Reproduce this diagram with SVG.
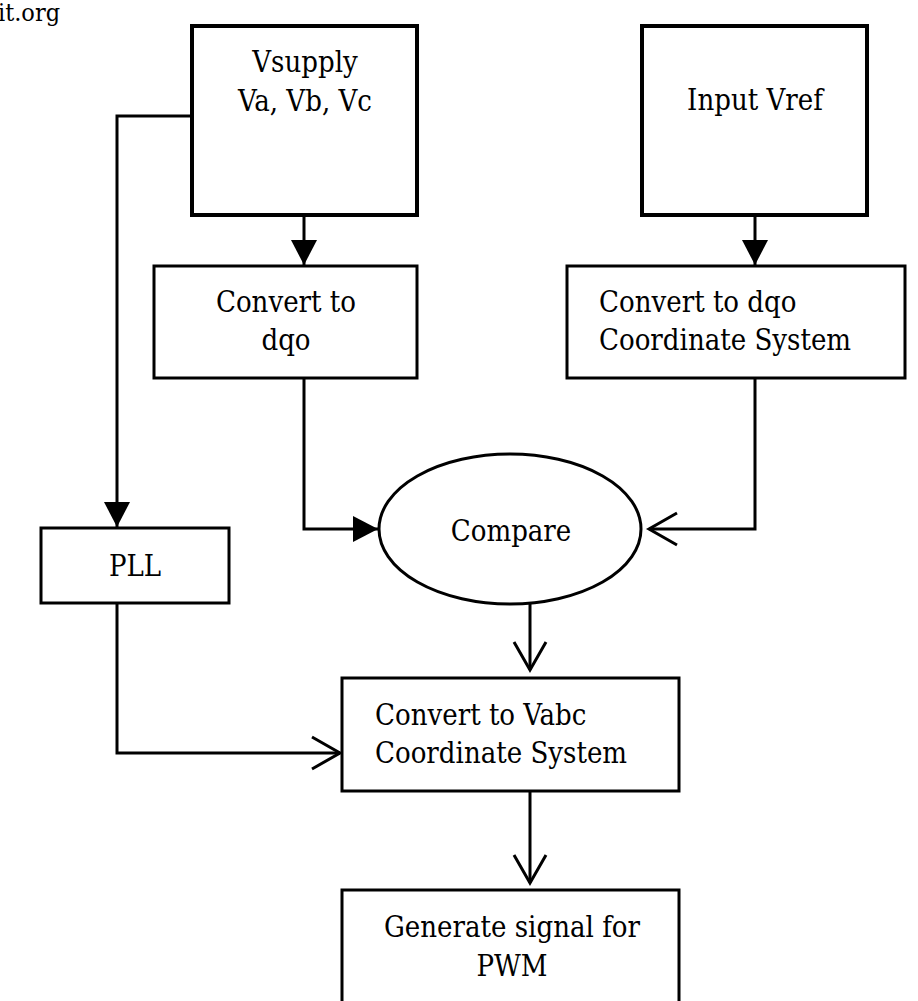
<svg xmlns="http://www.w3.org/2000/svg" width="918" height="1001" viewBox="0 0 918 1001">
<defs>
<style>
.box{fill:#fff;stroke:#000;stroke-width:3}
.thick{stroke-width:4}
.t{font-family:"DejaVu Serif Condensed","DejaVu Serif",serif;font-stretch:condensed;font-size:29px;fill:#000}
.c{text-anchor:middle}
.ln{fill:none;stroke:#000;stroke-width:3}
</style>
<marker id="fill" markerUnits="userSpaceOnUse" markerWidth="26" markerHeight="26" viewBox="0 0 26 26" refX="25" refY="13" orient="auto">
<path d="M0,0 L25,13 L0,26 Z" fill="#000"/>
</marker>
<marker id="open" markerUnits="userSpaceOnUse" markerWidth="34" markerHeight="36" viewBox="0 0 34 36" refX="30" refY="18" orient="auto">
<path d="M2,2 L30,18 L2,34" fill="none" stroke="#000" stroke-width="3"/>
</marker>
</defs>
<rect width="918" height="1001" fill="#fff"/>
<text x="-2" y="21" style="font-family:'DejaVu Serif Condensed','DejaVu Serif',serif;font-stretch:condensed;font-size:25px">it.org</text>
<g id="connectors">
<path class="ln" d="M192,116 H117 V527" marker-end="url(#fill)"/>
<path class="ln" d="M304,215 V265" marker-end="url(#fill)"/>
<path class="ln" d="M755,215 V265" marker-end="url(#fill)"/>
<path class="ln" d="M304,378 V529 H378" marker-end="url(#fill)"/>
<path class="ln" d="M755,378 V529 H649" marker-end="url(#open)"/>
<path class="ln" d="M530,604 V670" marker-end="url(#open)"/>
<path class="ln" d="M117,603 V753 H340" marker-end="url(#open)"/>
<path class="ln" d="M530,791 V883" marker-end="url(#open)"/>
</g>
<g id="vsupply">
<rect class="box thick" x="192" y="26" width="225" height="189"/>
<text class="t c" x="305" y="72">Vsupply</text>
<text class="t c" x="305" y="111">Va, Vb, Vc</text>
</g>
<g id="vref">
<rect class="box thick" x="642" y="26" width="225" height="189"/>
<text class="t c" x="755" y="110">Input Vref</text>
</g>
<g id="dqo1">
<rect class="box" x="154" y="266" width="263" height="112"/>
<text class="t c" x="286" y="312">Convert to</text>
<text class="t c" x="286" y="350">dqo</text>
</g>
<g id="dqo2">
<rect class="box" x="567" y="266" width="338" height="112"/>
<text class="t" x="599" y="312">Convert to dqo</text>
<text class="t" x="599" y="350">Coordinate System</text>
</g>
<g id="compare">
<ellipse class="box" cx="510" cy="529" rx="131" ry="75"/>
<text class="t c" x="511" y="541">Compare</text>
</g>
<g id="pll">
<rect class="box" x="41" y="528" width="188" height="75"/>
<text class="t c" x="135" y="576">PLL</text>
</g>
<g id="vabc">
<rect class="box" x="342" y="678" width="337" height="113"/>
<text class="t" x="375" y="725">Convert to Vabc</text>
<text class="t" x="375" y="763">Coordinate System</text>
</g>
<g id="pwm">
<rect class="box" x="342" y="890" width="337" height="120"/>
<text class="t c" x="512" y="937">Generate signal for</text>
<text class="t c" x="512" y="976">PWM</text>
</g>
</svg>
